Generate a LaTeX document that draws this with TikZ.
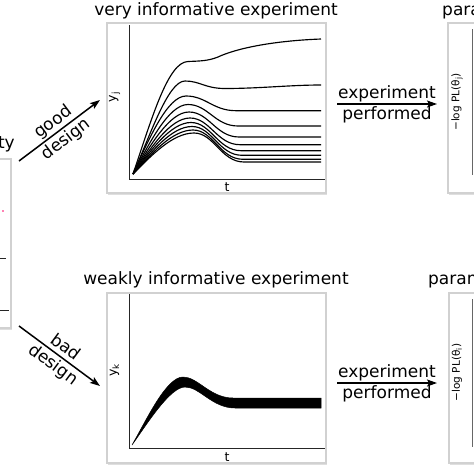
\documentclass[tikz,border=0pt]{standalone}
\usepackage{fontspec}
\setmainfont{DejaVu Sans}
\usetikzlibrary{arrows.meta,shadows}
\begin{document}
\begin{tikzpicture}[x=1pt,y=-1pt,
  panel/.style={draw=black!18, line width=1.2pt, fill=white, inner sep=0pt,
    minimum width=219pt, minimum height=170pt,
    drop shadow={opacity=0.25, shadow xshift=1pt, shadow yshift=-1.5pt}},
  title/.style={font=\fontsize{17}{20}\selectfont, inner sep=0pt, anchor=base},
  lbl/.style={font=\fontsize{17}{20}\selectfont, inner sep=0pt, outer sep=0pt},
  axlbl/.style={font=\fontsize{12.5}{14}\selectfont, inner sep=0pt},
  pllbl/.style={font=\fontsize{10.5}{12}\selectfont, inner sep=0pt, rotate=90},
  axisline/.style={line width=0.9pt, black!85},
  curve/.style={line width=1.15pt},
  flow/.style={line width=1.5pt, -{Stealth[length=10pt, width=7pt, inset=2pt]}}
]
\useasboundingbox (0,0) rectangle (474,474);
\fill[white] (0,0) rectangle (474,474);
\clip (0,0) rectangle (474,474);

% panels
\node[panel, minimum width=82pt, minimum height=169pt] (leftbox) at (-30,243.5) {};
\node[panel] (topmid) at (216.5,108) {};
\node[panel] (botmid) at (216.5,378) {};
\node[panel] (topright) at (557.5,108) {};
\node[panel] (botright) at (558.5,378) {};

% titles
\node[title, anchor=base east] (lefttitle) at (15,148) {uncertainty};
\node[title] (toptitle) at (216,15) {very informative experiment};
\node[title] (bottitle) at (216,284) {weakly informative experiment};
\node[title, anchor=base west] (trtitle) at (442,15) {parameter};
\node[title, anchor=base west] (brtitle) at (428,284) {parameter};

% left panel remnants
\fill[red!60!magenta] (3,211) circle (0.8);
\draw[axisline] (0,258) -- (6,258);
\draw[axisline] (0,310) -- (9,310);

% top middle plot
\draw[axisline] (129,25) -- (129,179) -- (325,179);
\node[axlbl, rotate=90] (yj) at (114.5,97) {y\textsubscript{j}};
\node[axlbl] (t1) at (227,187) {t};
\coordinate (o1) at (133,174);
\draw[curve] (o1) .. controls (152,118) and (168,62) .. (188,61.5)
  .. controls (200,61) and (208,61) .. (218,57)
  .. controls (235,49) and (270,41) .. (321,39);
\draw[curve] (o1) .. controls (150,136) and (168,81) .. (185,81)
  .. controls (200,81) and (205,88.5) .. (225,88.5)
  .. controls (260,88.5) and (290,85) .. (321,85);
\foreach \P/\px/\F in {96/186/110.7, 104.5/188/126, 112/189/137, 118/190/144.7,
   122.5/191/150.7, 126.5/192/155.3, 130/193/159.3, 133/194/162} {
  \draw[curve] (o1) .. controls ({133+0.3*(\px-133)},{174-0.45*(174-\P)})
     and ({\px-0.35*(\px-133)},\P) .. (\px,\P)
     .. controls ({\px+20},\P) and ({\px+27},\F) .. ({\px+50},\F) -- (321,\F);
}

% bottom middle plot
\draw[axisline] (129,294) -- (129,448) -- (325,448);
\node[axlbl, rotate=90] (yk) at (114.5,370) {y\textsubscript{k}};
\node[axlbl] (t2) at (227,457) {t};
\coordinate (o2) at (132,445);
\filldraw[line width=0.5pt] (o2) .. controls (146,421) and (166,377) .. (183,377)
  .. controls (198,377) and (210,398) .. (233,398) -- (321,398) -- (321,408)
  -- (235,408) .. controls (212,408) and (200,387) .. (185,387)
  .. controls (170,387) and (147,424) .. (o2) -- cycle;

% right panels
\draw[line width=1pt, black!60] (472,29) -- (472,175);
\draw[line width=1pt, black!60] (472,299) -- (472,447);
\node[pllbl] (plj) at (457,102) {−log PL(θ\textsubscript{j})};
\node[pllbl] (pli) at (457,372.5) {−log PL(θ\textsubscript{i})};

% arrows
\coordinate (g0) at (19,161); \coordinate (g1) at (100,100);
\coordinate (b0) at (19,326); \coordinate (b1) at (100,386);
\coordinate (e0) at (337,104); \coordinate (e1) at (437,104);
\coordinate (f0) at (337,383); \coordinate (f1) at (437,383);
\draw[flow] (g0) -- node[lbl, sloped, midway, above=2pt] (goodlbl) {good}
  node[lbl, sloped, midway, below=3pt] (gdesign) {design} (g1);
\draw[flow] (b0) -- node[lbl, sloped, midway, above=5pt] (badlbl) {bad}
  node[lbl, sloped, midway, below=3pt] (bdesign) {design} (b1);
\draw[flow] (e0) -- node[lbl, midway, above=1.5pt] (exp1) {experiment}
  node[lbl, midway, below=2.6pt] (perf1) {performed} (e1);
\draw[flow] (f0) -- node[lbl, midway, above=1.5pt] (exp2) {experiment}
  node[lbl, midway, below=2.6pt] (perf2) {performed} (f1);
\end{tikzpicture}
\end{document}
